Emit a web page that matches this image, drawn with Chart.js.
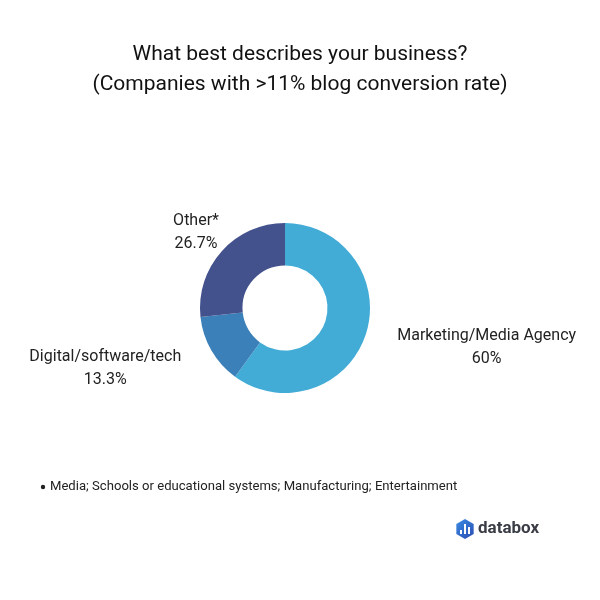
<!DOCTYPE html>
<html>
<head>
<meta charset="utf-8">
<script src="https://cdn.jsdelivr.net/npm/chart.js@4"></script>
<style>
  html, body { margin: 0; padding: 0; background: #fff; }
  #wrap { width: 600px; height: 600px; }
</style>
</head>
<body>
<div id="wrap"><canvas id="donut" width="600" height="600"></canvas></div>
<script>
const categories = ['Marketing/Media Agency', 'Digital/software/tech', 'Other*'];
const shares = [60, 13.3, 26.7];
const shareLabels = ['60%', '13.3%', '26.7%'];
const colors = ['#42abd6', '#3b80b9', '#43528c'];
const titleLines = ['What best describes your business?', '(Companies with >11% blog conversion rate)'];
const footnote = 'Media; Schools or educational systems; Manufacturing; Entertainment';

// title, outside labels, footnote and logo drawn on the canvas
const extras = {
    id: 'extras',
    afterDatasetsDraw(chart, args, opts) {
        const ctx = chart.ctx;
        const meta = chart.getDatasetMeta(0);
        ctx.save();
        ctx.font = '16px Roboto';
        ctx.fillStyle = '#222';
        ctx.textBaseline = 'middle';
        ctx.textAlign = 'center';
        meta.data.forEach((arc, i) => {
            const mid = (arc.startAngle + arc.endAngle) / 2;
            const r = arc.outerRadius + 32;
            const x = arc.x + Math.cos(mid) * r;
            const y = arc.y + Math.sin(mid) * r;
            const w = Math.max(ctx.measureText(categories[i]).width, ctx.measureText(shareLabels[i]).width);
            const nudge = opts.nudge[i];
            const cx = (Math.cos(mid) >= 0 ? x + w / 2 : x - w / 2) + nudge[0];
            const cy = y + nudge[1];
            ctx.fillText(categories[i], cx, cy - 11);
            ctx.fillText(shareLabels[i], cx, cy + 12);
        });
        ctx.restore();
    },
    afterDraw(chart) {
        const ctx = chart.ctx;
        ctx.save();
        ctx.fillStyle = '#111';
        ctx.font = '21px Roboto';
        ctx.textAlign = 'center';
        ctx.textBaseline = 'middle';
        titleLines.forEach((t, i) => ctx.fillText(t, 300, 55 + i * 30));

        ctx.fillStyle = '#222';
        ctx.beginPath();
        ctx.arc(43, 487, 2.2, 0, Math.PI * 2);
        ctx.fill();
        ctx.font = '13.1px Roboto';
        ctx.textAlign = 'left';
        ctx.fillText(footnote, 50, 487);

        // databox logo
        const hx = 465, hy = 529, hr = 10;
        const g = ctx.createLinearGradient(hx - hr, hy - hr, hx + hr, hy + hr);
        g.addColorStop(0, '#3a8ee6');
        g.addColorStop(1, '#2b4bb0');
        ctx.fillStyle = g;
        ctx.beginPath();
        for (let k = 0; k < 6; k++) {
            const a = Math.PI / 6 + k * Math.PI / 3;
            const px = hx + Math.cos(a) * hr, py = hy + Math.sin(a) * hr;
            k ? ctx.lineTo(px, py) : ctx.moveTo(px, py);
        }
        ctx.closePath();
        ctx.fill();
        ctx.fillStyle = '#fff';
        ctx.fillRect(hx - 5, hy + 1, 2, 4);
        ctx.fillRect(hx - 1, hy - 5, 2, 10);
        ctx.fillRect(hx + 3, hy - 2, 2, 7);
        ctx.font = 'bold 17px Roboto';
        ctx.fillStyle = '#3a3d45';
        ctx.fillText('databox', 478, 529);
        ctx.restore();
    }
};

new Chart(document.getElementById('donut'), {
    type: 'doughnut',
    data: {
        labels: categories,
        datasets: [{
            data: shares,
            backgroundColor: colors,
            borderWidth: 0
        }]
    },
    options: {
        responsive: false,
        animation: false,
        cutout: '50%',
        layout: {
            padding: { left: 200, right: 230, top: 223, bottom: 207 }
        },
        plugins: {
            legend: { display: false },
            tooltip: { enabled: false },
            title: { display: false },
            extras: { nudge: [[1, 3], [-2.5, 1], [21, 2]] }
        }
    },
    plugins: [extras]
});
</script>
</body>
</html>
